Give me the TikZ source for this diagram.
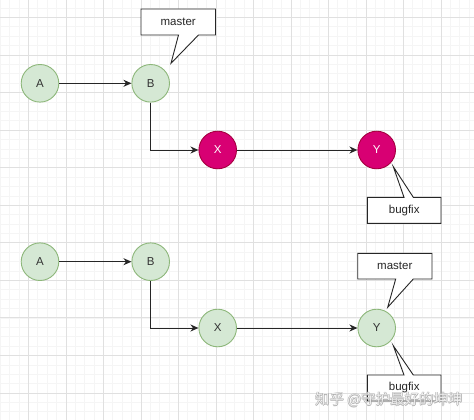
\documentclass[tikz,border=0pt]{standalone}
\usepackage{fontspec}
\setmainfont{Liberation Sans}
\newfontfamily\cjkfont{Noto Sans CJK SC}
\usetikzlibrary{arrows.meta,calc}
\definecolor{gfill}{HTML}{D5E8D4}
\definecolor{gline}{HTML}{8DB77A}
\definecolor{mfill}{HTML}{D80073}
\definecolor{mline}{HTML}{A50040}
\definecolor{majgrid}{HTML}{E0E0E0}
\definecolor{mingrid}{HTML}{F5F5F5}
\tikzset{
  commit/.style={circle, minimum size=37.6pt, inner sep=0pt, line width=0.9pt, font=\fontsize{11.5}{13}\selectfont},
  gcommit/.style={commit, draw=gline, fill=gfill, text=black!80},
  mcommit/.style={commit, draw=mline, fill=mfill, text=white},
  link/.style={line width=1pt, draw=black!85, -{Stealth[length=8pt,width=7pt,inset=2.5pt]}},
  callout/.style={draw=black!85, fill=white, line width=0.9pt, line join=miter},
  calltext/.style={font=\fontsize{11.5}{13}\selectfont, text=black!85, inner sep=0pt},
  wmtext/.style={font=\cjkfont\fontsize{14.5}{16}\selectfont, inner sep=0pt, anchor=west}
}
\begin{document}
\begin{tikzpicture}[x=1pt,y=-1pt]
\useasboundingbox (0,0) rectangle (474,420);
\fill[white] (0,0) rectangle (474,420);
% minor grid
\foreach \k in {-3,...,50} {
  \draw[mingrid, line width=0.4pt] ({28.3+9.375*\k},0) -- ({28.3+9.375*\k},420);
  \draw[mingrid, line width=0.4pt] (0,{17.3+9.39*\k}) -- (474,{17.3+9.39*\k});
}
% major grid
\foreach \k in {0,...,12} {
  \draw[majgrid, line width=0.6pt] ({28.3+37.5*\k},0) -- ({28.3+37.5*\k},420);
  \draw[majgrid, line width=0.6pt] (0,{17.3+37.55*\k}) -- (474,{17.3+37.55*\k});
}
% ---------- top diagram ----------
\node[gcommit] (A1) at (40,83.3) {A};
\node[gcommit] (B1) at (150.7,83.3) {B};
\node[mcommit] (X1) at (217.7,150) {X};
\node[mcommit] (Y1) at (376.7,150) {Y};
\draw[link] (A1) -- (B1);
\draw[link] (B1.south) |- (X1.west);
\draw[link] (X1) -- (Y1);
% callouts top
\draw[callout] (141,9) -- (215.5,9) -- (215.5,35) -- (198.5,35) -- (171,63.3) -- (178.5,35) -- (141,35) -- cycle;
\node[calltext] (M1) at (178.2,22) {master};
\draw[callout] (367.3,223.3) -- (441,223.3) -- (441,197.3) -- (413.3,197.3) -- (393.3,166.7) -- (404,197.3) -- (367.3,197.3) -- cycle;
\node[calltext] (F1) at (404.2,210.3) {bugfix};
% ---------- bottom diagram ----------
\node[gcommit] (A2) at (40,261.7) {A};
\node[gcommit] (B2) at (150.7,261.7) {B};
\node[gcommit] (X2) at (217.7,328) {X};
\node[gcommit] (Y2) at (376.7,328) {Y};
\draw[link] (A2) -- (B2);
\draw[link] (B2.south) |- (X2.west);
\draw[link] (X2) -- (Y2);
\draw[callout] (357.7,253.3) -- (432,253.3) -- (432,279) -- (413.3,279) -- (387.7,307.3) -- (395.7,279) -- (357.7,279) -- cycle;
\node[calltext] (M2) at (394.8,266.2) {master};
\draw[callout] (367.3,401) -- (441,401) -- (441,375) -- (413.3,375) -- (393.3,345.7) -- (404,375) -- (367.3,375) -- cycle;
\node[calltext] (F2) at (404.2,388) {bugfix};
% watermark (outlined look)
\foreach \dx/\dy in {-0.6/0,0.6/0,0/-0.6,0/0.6} {
  \node[wmtext, text=black!40, opacity=0.7] at ({315+\dx},{400+\dy}) {知乎 @守护最好的坤坤};
}
\node[wmtext, text=white, opacity=0.85] (WM) at (315,400) {知乎 @守护最好的坤坤};
\end{tikzpicture}
\end{document}
